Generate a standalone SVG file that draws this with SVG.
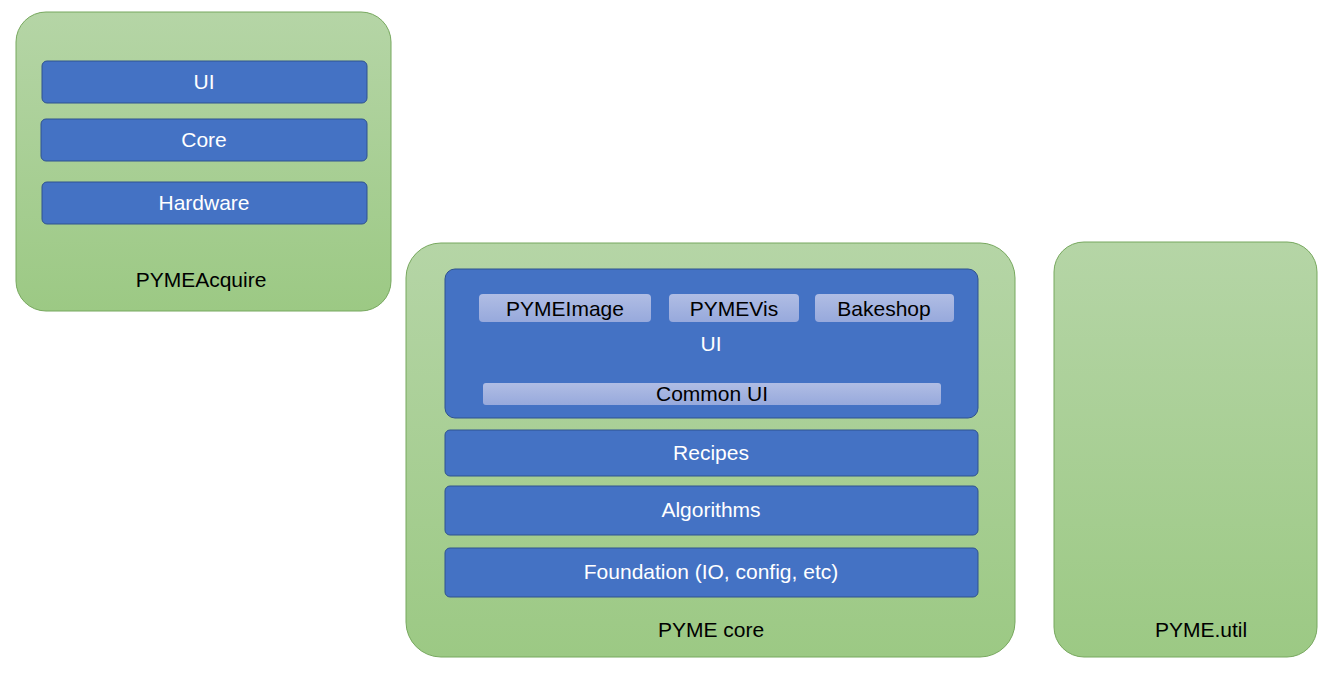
<svg xmlns="http://www.w3.org/2000/svg" width="1329" height="683" viewBox="0 0 1329 683">
<defs>
<linearGradient id="g" x1="0" y1="0" x2="0" y2="1"><stop offset="0" stop-color="#b5d5a6"/><stop offset="1" stop-color="#9cc984"/></linearGradient>
<linearGradient id="l" x1="0" y1="0" x2="0" y2="1"><stop offset="0" stop-color="#b0bde4"/><stop offset="1" stop-color="#97a9dc"/></linearGradient>
</defs>
<style>
.o{fill:url(#g);stroke:#77a85e;stroke-width:1}
.b{fill:#4472c4;stroke:#2f528f;stroke-width:1}
.s{fill:url(#l);stroke:none}
text{font-family:"Liberation Sans",Arial,sans-serif;font-size:21px;text-anchor:middle}
.w{fill:#fff}
.k{fill:#000}
</style>
<rect width="1329" height="683" fill="#fff"/>
<g id="pymeacquire">
<rect class="o" x="16" y="12" width="375" height="299" rx="30"/>
<text class="k" x="201" y="287">PYMEAcquire</text>
</g>
<g id="acq-ui"><rect class="b" x="42" y="61" width="325" height="42" rx="5"/><text class="w" x="204" y="89">UI</text></g>
<g id="acq-core"><rect class="b" x="41" y="119" width="326" height="42" rx="5"/><text class="w" x="204" y="147">Core</text></g>
<g id="acq-hw"><rect class="b" x="42" y="182" width="325" height="42" rx="5"/><text class="w" x="204" y="210">Hardware</text></g>
<g id="pymecore">
<rect class="o" x="406" y="243" width="609" height="414" rx="35"/>
<text class="k" x="711" y="637">PYME core</text>
</g>
<g id="core-ui">
<rect class="b" x="445" y="269" width="533" height="149" rx="10"/>
<text class="w" x="711" y="351">UI</text>
</g>
<g id="pymeimage"><rect class="s" x="479" y="294" width="172" height="28" rx="4"/><text class="k" x="565" y="316">PYMEImage</text></g>
<g id="pymevis"><rect class="s" x="669" y="294" width="130" height="28" rx="4"/><text class="k" x="734" y="316">PYMEVis</text></g>
<g id="bakeshop"><rect class="s" x="815" y="294" width="139" height="28" rx="4"/><text class="k" x="884" y="316">Bakeshop</text></g>
<g id="commonui"><rect class="s" x="483" y="383" width="458" height="22" rx="3"/><text class="k" x="712" y="401">Common UI</text></g>
<g id="recipes"><rect class="b" x="445" y="430" width="533" height="46" rx="5"/><text class="w" x="711" y="460">Recipes</text></g>
<g id="algorithms"><rect class="b" x="445" y="486" width="533" height="49" rx="5"/><text class="w" x="711" y="517">Algorithms</text></g>
<g id="foundation"><rect class="b" x="445" y="548" width="533" height="49" rx="5"/><text class="w" x="711" y="579">Foundation (IO, config, etc)</text></g>
<g id="pymeutil">
<rect class="o" x="1054" y="242" width="263" height="415" rx="30"/>
<text class="k" x="1201" y="637">PYME.util</text>
</g>
<g id="connectors"/>
</svg>
